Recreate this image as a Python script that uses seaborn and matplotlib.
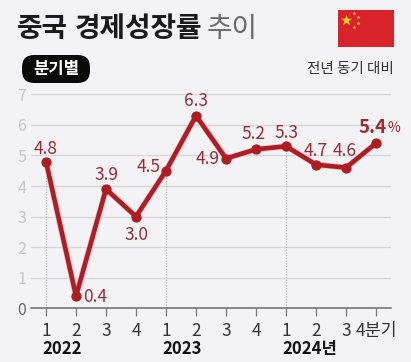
import numpy as np
import pandas as pd
import matplotlib.pyplot as plt
from matplotlib.patches import FancyBboxPatch
import seaborn as sns

# data
quarters = ['1', '2', '3', '4', '1', '2', '3', '4', '1', '2', '3', '4분기']
growth = [4.8, 0.4, 3.9, 3.0, 4.5, 6.3, 4.9, 5.2, 5.3, 4.7, 4.6, 5.4]
value_labels = ['4.8', '0.4', '3.9', '3.0', '4.5', '6.3', '4.9', '5.2', '5.3', '4.7', '4.6']
years = ['2022', '2023', '2024년']
year_starts = [0, 4, 8]
y_ticks = [0, 1, 2, 3, 4, 5, 6, 7]

W, H = 411, 362
bg = '#f3f3f5'
red = '#b01c24'
label_red = '#9c2b33'

sns.set_theme(style='white')
plt.rcParams['font.family'] = ['Noto Sans CJK KR', 'DejaVu Sans']

fig = plt.figure(figsize=(W / 100, H / 100), dpi=100, facecolor=bg)
ax = fig.add_axes([31 / W, 1 - 308.3 / H, 360 / W, 214 / H], facecolor=bg)

df = pd.DataFrame({'pos': np.arange(len(growth)), 'growth': growth})

# grid
for v in y_ticks[1:]:
    ax.axhline(v, color='#d6d6d6', lw=0.95, zorder=1)

# dotted year markers
for s in year_starts:
    ax.vlines(s, 0, growth[s], color='#b5b5b5', lw=0.9, ls=(0, (1, 1.2)), zorder=1)

# pale halo under the line, then line + dots
sns.lineplot(data=df, x='pos', y='growth', color='#efc4c6', lw=4.4, ax=ax, zorder=2,
             solid_joinstyle='round')
sns.lineplot(data=df, x='pos', y='growth', color=red, lw=3.3, marker='o', markersize=7.4,
             markeredgewidth=0, ax=ax, zorder=3, solid_joinstyle='round')

ax.set_xlim(-0.5, 11.5)
ax.set_ylim(0, 7)
ax.set_xlabel('')
ax.set_ylabel('')
sns.despine(ax=ax, left=True, top=True, right=True)
ax.spines['bottom'].set_color('#6a6a6a')
ax.spines['bottom'].set_linewidth(1.1)

ax.set_xticks(df['pos'])
ax.set_xticklabels(quarters, fontsize=12.5, color='#333333')
ax.tick_params(axis='x', bottom=True, length=5.5, width=0.9, color='#777777', pad=4.5)
ax.set_yticks(y_ticks)
ax.set_yticklabels([str(v) for v in y_ticks], fontsize=11.5, color='#c6c6c6')
ax.get_yticklabels()[0].set_color('#666666')
ax.tick_params(axis='y', left=False, length=0, pad=3.5)

# value labels, pixel offsets from each point
offsets = [(0, 13), (19, -1), (0, 14), (0, -18), (-17, 4), (0, 15),
           (-18, -1), (-3, 15), (0, 13), (0, 14), (-1, 17)]
for i, (txt, off) in enumerate(zip(value_labels, offsets)):
    ax.annotate(txt, (i, growth[i]), xytext=off, textcoords='offset pixels',
                ha='center', va='center', fontsize=12.5, color=label_red, zorder=5,
                annotation_clip=False)

# last point label
ax.annotate('5.4', (11, growth[11]), xytext=(-3, 16), textcoords='offset pixels',
            ha='center', va='center', fontsize=13.5, fontweight='bold', color=label_red,
            annotation_clip=False)
ax.annotate('%', (11, growth[11]), xytext=(17.5, 15), textcoords='offset pixels',
            ha='center', va='center', fontsize=10, color=label_red, annotation_clip=False)

# years
for s, y in zip(year_starts, years):
    ax.annotate(y, (s, 0), xytext=(-4, -41), textcoords='offset pixels', ha='left', va='center',
                fontsize=12, fontweight='bold', color='#111111', annotation_clip=False)

# header
fig.text(17 / W, 1 - 29 / H, '중국', fontsize=20, fontweight='bold', color='#1a1a1a',
         ha='left', va='center')
fig.text(75 / W, 1 - 29 / H, '경제성장률', fontsize=20, fontweight='bold', color='#1a1a1a',
         ha='left', va='center')
fig.text(207 / W, 1 - 29 / H, '추이', fontsize=20, fontweight='light', color='#6a6a6a',
         ha='left', va='center')
fig.text(394 / W, 1 - 69 / H, '전년 동기 대비', fontsize=10.5, color='#333333', ha='right', va='center')

# pill
pill = FancyBboxPatch((22 / W, 1 - 83 / H), 68 / W, 28 / H, transform=fig.transFigure,
                      boxstyle='round,pad=0,rounding_size=0.03',
                      facecolor='#0a0a0a', edgecolor='none', mutation_aspect=W / H)
fig.add_artist(pill)
fig.text(56 / W, 1 - 69 / H, '분기별', fontsize=12, fontweight='bold', color='white',
         ha='center', va='center')

# flag
flag = fig.add_axes([338 / W, 1 - 47 / H, 56 / W, 37 / H], facecolor='#d8232a')
flag.set_xticks([])
flag.set_yticks([])
for sp in flag.spines.values():
    sp.set_visible(False)
flag.set_xlim(0, 56)
flag.set_ylim(37, 0)
flag.scatter([8], [10], marker='*', s=70, color='#f7d02a', linewidths=0)
flag.scatter([16, 20, 20, 16], [3, 7, 13, 17], marker='*', s=9, color='#f0c030', linewidths=0)

fig.savefig('out.png', dpi=100, facecolor=bg)
